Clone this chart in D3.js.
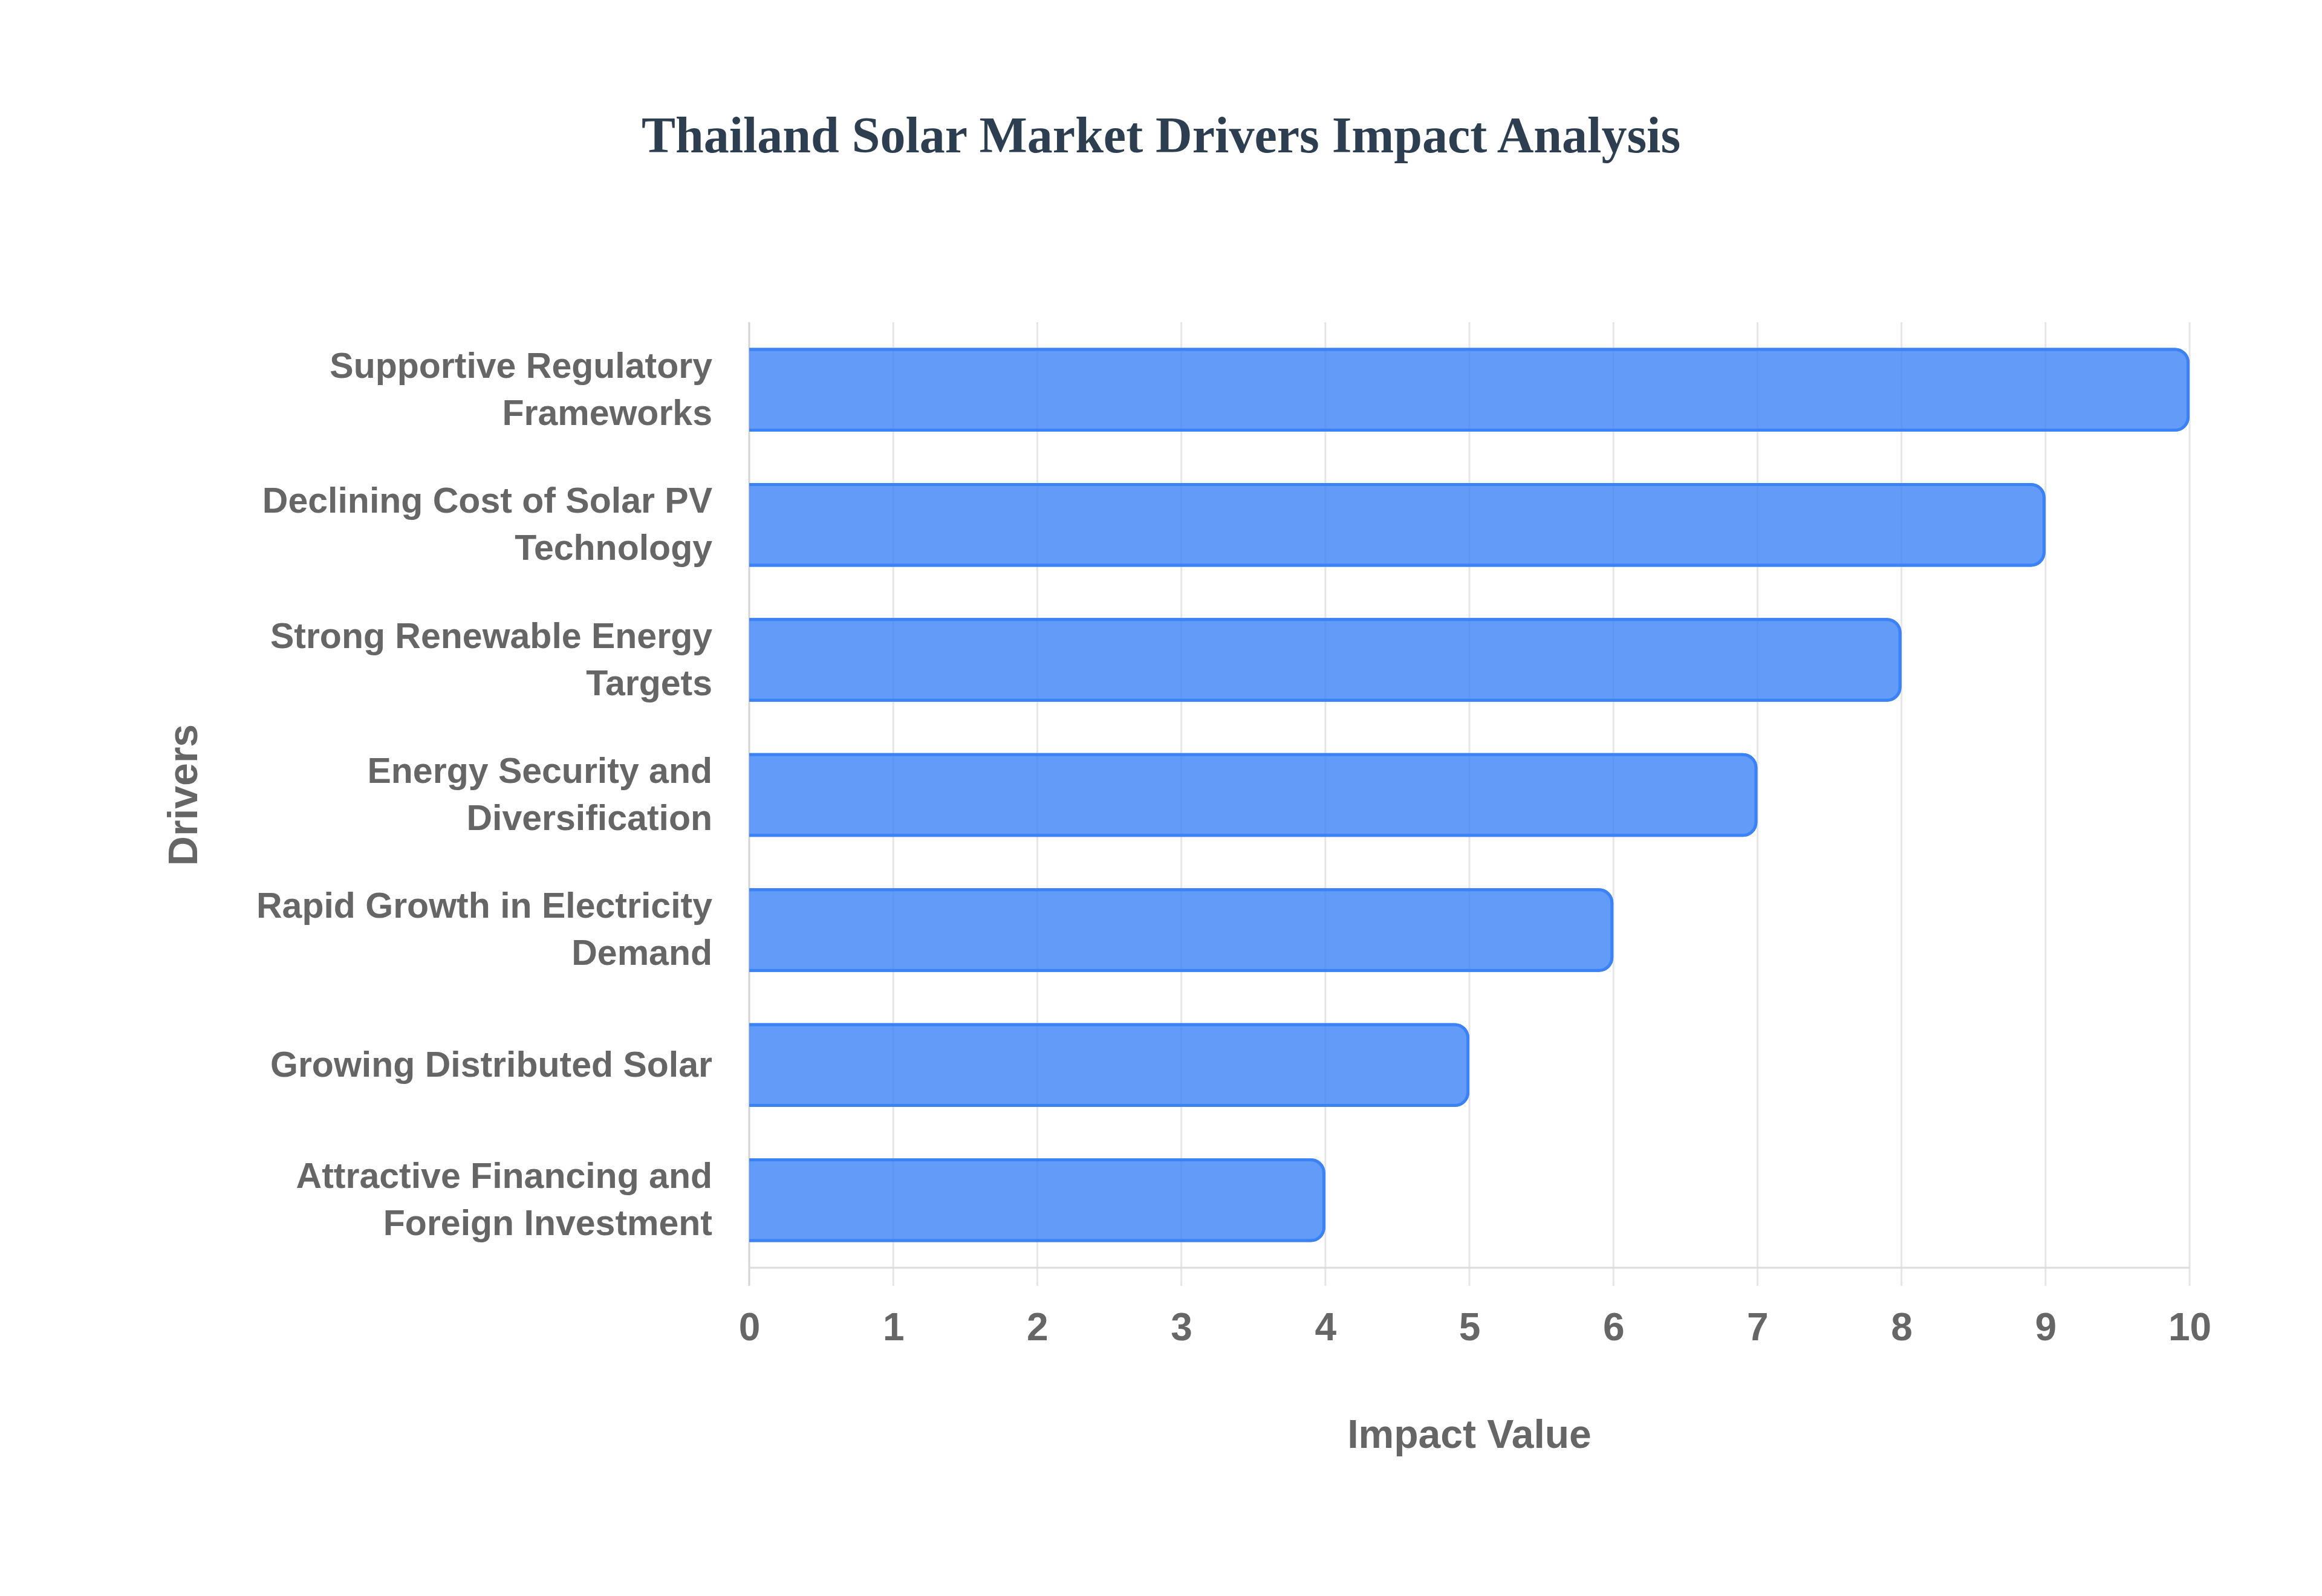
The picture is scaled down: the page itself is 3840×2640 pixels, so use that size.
<!DOCTYPE html>
<html>
<head>
<meta charset="utf-8">
<script src="https://cdn.jsdelivr.net/npm/d3@7"></script>
<style>
  html, body { margin: 0; padding: 0; background: #fff; }
  svg { display: block; }
</style>
</head>
<body>
<div id="chart"></div>
<script>
// ---- Data -------------------------------------------------------------------
const drivers = [
  ['Supportive Regulatory', 'Frameworks'],
  ['Declining Cost of Solar PV', 'Technology'],
  ['Strong Renewable Energy', 'Targets'],
  ['Energy Security and', 'Diversification'],
  ['Rapid Growth in Electricity', 'Demand'],
  ['Growing Distributed Solar'],
  ['Attractive Financing and', 'Foreign Investment']
];
const impactValues = [10, 9, 8, 7, 6, 5, 4];
const xTicks = [0, 1, 2, 3, 4, 5, 6, 7, 8, 9, 10];

const TITLE   = 'Thailand Solar Market Drivers Impact Analysis';
const X_TITLE = 'Impact Value';
const Y_TITLE = 'Drivers';

// ---- Layout -----------------------------------------------------------------
const W = 3840, H = 2640;
const M = { top: 533, right: 219, bottom: 543, left: 1239 };
const innerBottom = H - M.bottom;   // x axis line
const TICK = 30;
const FONT = '"Liberation Sans", Arial, sans-serif';
const GREY = '#666666';

const svg = d3.select('#chart').append('svg')
  .attr('width', W).attr('height', H)
  .attr('viewBox', `0 0 ${W} ${H}`);

svg.append('rect').attr('width', W).attr('height', H).attr('fill', '#fff');

const rows = drivers.map((lines, i) => ({ id: i, lines, value: impactValues[i] }));

const x = d3.scaleLinear().domain([0, 10]).range([M.left, W - M.right]);
const y = d3.scaleBand()
  .domain(rows.map(d => d.id))
  .range([M.top, innerBottom])
  .paddingInner(0.38)
  .paddingOuter(0.19);

// ---- Grid (vertical) --------------------------------------------------------
svg.append('g').attr('class', 'grid')
  .selectAll('line').data(xTicks).join('line')
  .attr('x1', d => x(d)).attr('x2', d => x(d))
  .attr('y1', M.top).attr('y2', innerBottom + TICK)
  .attr('stroke', d => d === 0 ? '#d4d4d4' : '#e6e6e6')
  .attr('stroke-width', 3);

// x axis border
svg.append('line')
  .attr('x1', x(0)).attr('x2', x(10))
  .attr('y1', innerBottom).attr('y2', innerBottom)
  .attr('stroke', '#dcdcdc').attr('stroke-width', 3);

// ---- Bars -------------------------------------------------------------------
const BW = 5, R = 24;
function barOuter(d) {
  const x0 = x(0), x1 = x(d.value), y0 = y(d.id), h = y.bandwidth();
  const r = Math.min(R, h / 2, x1 - x0);
  return `M${x0},${y0}H${x1 - r}A${r},${r} 0 0 1 ${x1},${y0 + r}` +
         `V${y0 + h - r}A${r},${r} 0 0 1 ${x1 - r},${y0 + h}H${x0}Z`;
}
function barBorder(d) {
  const s = BW / 2;
  const x0 = x(0), x1 = x(d.value) - s, y0 = y(d.id) + s, h = y.bandwidth() - BW;
  const r = Math.min(R - s, h / 2);
  return `M${x0},${y0}H${x1 - r}A${r},${r} 0 0 1 ${x1},${y0 + r}` +
         `V${y0 + h - r}A${r},${r} 0 0 1 ${x1 - r},${y0 + h}H${x0}`;
}

const bars = svg.append('g').attr('class', 'bars');
bars.selectAll('path.fill').data(rows).join('path')
  .attr('class', 'fill')
  .attr('d', barOuter)
  .attr('fill', 'rgba(59,130,246,0.8)');
bars.selectAll('path.border').data(rows).join('path')
  .attr('class', 'border')
  .attr('d', barBorder)
  .attr('fill', 'none')
  .attr('stroke', '#3b82f6')
  .attr('stroke-width', BW);

// ---- X axis labels ----------------------------------------------------------
svg.append('g')
  .attr('transform', `translate(0,${innerBottom})`)
  .call(d3.axisBottom(x).tickValues(xTicks).tickFormat(d3.format('d'))
    .tickSize(TICK).tickPadding(45))
  .call(g => g.select('.domain').remove())
  .call(g => g.selectAll('.tick line').remove())
  .call(g => g.selectAll('text')
    .attr('fill', GREY)
    .style('font-family', FONT)
    .style('font-weight', 'bold')
    .style('font-size', '64px'));

// ---- Y axis labels ----------------------------------------------------------
const LINE_H = 78;
const yLab = svg.append('g').attr('class', 'ylabels');
rows.forEach(d => {
  const cy = y(d.id) + y.bandwidth() / 2;
  const n = d.lines.length;
  const t = yLab.append('text')
    .attr('text-anchor', 'end')
    .attr('fill', GREY)
    .style('font-family', FONT)
    .style('font-weight', 'bold')
    .style('font-size', '59px');
  d.lines.forEach((line, k) => {
    t.append('tspan')
      .attr('x', M.left - 61)
      .attr('y', cy + (k - (n - 1) / 2) * LINE_H + 19)
      .text(line);
  });
});

// ---- Titles -----------------------------------------------------------------
svg.append('text')
  .attr('x', W / 2).attr('y', 252)
  .attr('text-anchor', 'middle')
  .attr('fill', '#2c3e50')
  .style('font-family', '"Liberation Serif", "Times New Roman", serif')
  .style('font-weight', 'bold')
  .style('font-size', '84px')
  .text(TITLE);

svg.append('text')
  .attr('x', (x(0) + x(10)) / 2).attr('y', 2395)
  .attr('text-anchor', 'middle')
  .attr('fill', GREY)
  .style('font-family', FONT)
  .style('font-weight', 'bold')
  .style('font-size', '66px')
  .text(X_TITLE);

svg.append('text')
  .attr('transform', `translate(326,${(M.top + innerBottom) / 2}) rotate(-90)`)
  .attr('text-anchor', 'middle')
  .attr('fill', GREY)
  .style('font-family', FONT)
  .style('font-weight', 'bold')
  .style('font-size', '68px')
  .text(Y_TITLE);
</script>
</body>
</html>
